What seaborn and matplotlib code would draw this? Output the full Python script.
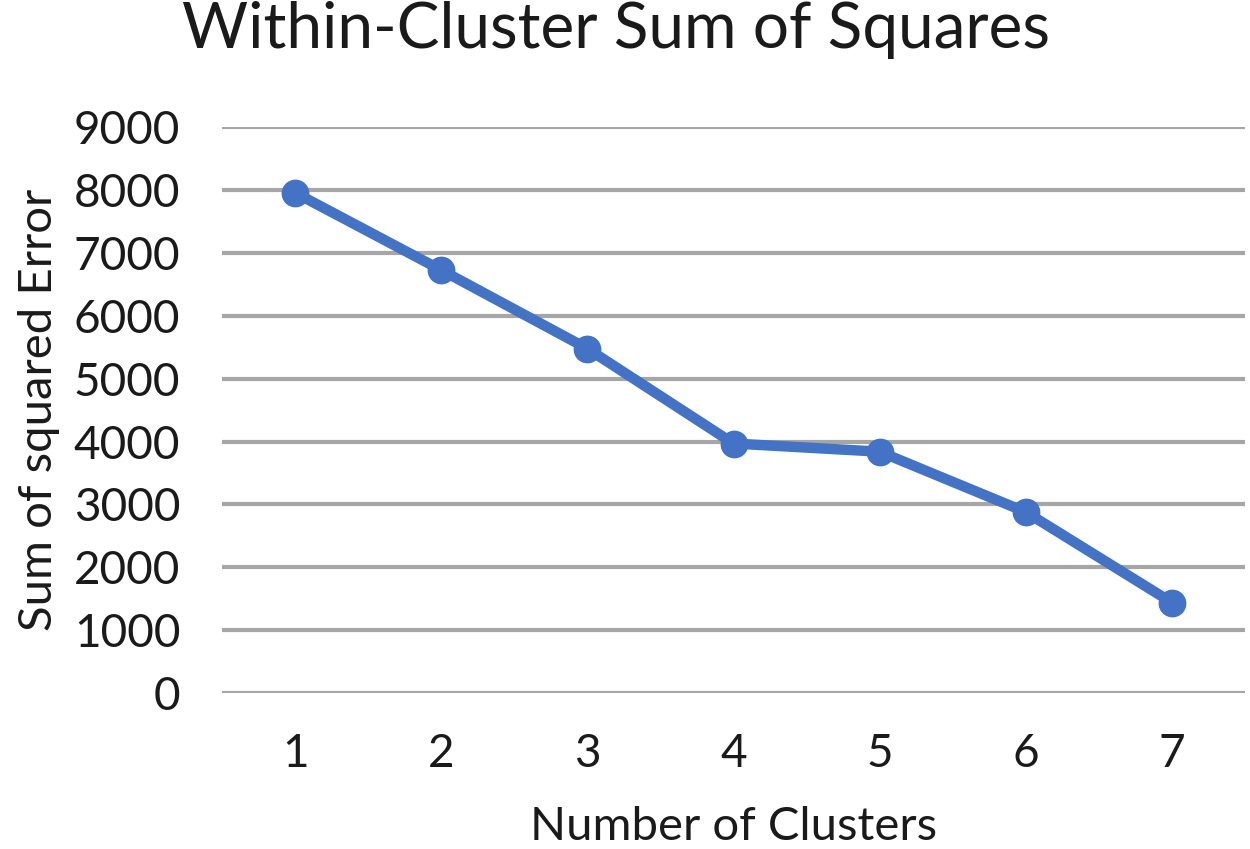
import matplotlib
matplotlib.use('Agg')
import matplotlib.pyplot as plt
import seaborn as sns
import pandas as pd

# 数据
clusters = [1, 2, 3, 4, 5, 6, 7]
sse = [7960, 6730, 5480, 3970, 3840, 2880, 1440]
y_ticks = [0, 1000, 2000, 3000, 4000, 5000, 6000, 7000, 8000, 9000]

sns.set_theme(style='whitegrid')
plt.rcParams['font.family'] = ['Lato', 'DejaVu Sans']

df = pd.DataFrame({'k': clusters, 'sse': sse})

fig = plt.figure(figsize=(12.5, 8.49), dpi=100)
ax = fig.add_axes([0.1776, 0.1837, 0.8184, 0.6663])
sns.lineplot(data=df, x='k', y='sse', ax=ax, color='#4472C4', linewidth=7.5,
             marker='o', markersize=20, markeredgewidth=0, clip_on=False)

ax.set_xlim(0.5, 7.5)
ax.set_ylim(0, 9000)
ax.set_xticks(clusters)
ax.set_yticks(y_ticks)
ax.tick_params(axis='both', labelsize=33, colors='#1a1a1a', length=0)
ax.tick_params(axis='x', pad=29)
ax.tick_params(axis='y', pad=30)
ax.grid(axis='x', visible=False)
ax.grid(axis='y', color='#a6a6a6', linewidth=3)
for s in ax.spines.values():
    s.set_visible(False)

ax.set_xlabel('Number of Clusters', fontsize=34, color='#1a1a1a', labelpad=22)
ax.set_ylabel('Sum of squared Error', fontsize=34, color='#1a1a1a', labelpad=10)
fig.text(0.493, 0.965, 'Within-Cluster Sum of Squares', fontsize=46,
         ha='center', va='center', color='#1a1a1a')

plt.savefig('out.png', dpi=100)
